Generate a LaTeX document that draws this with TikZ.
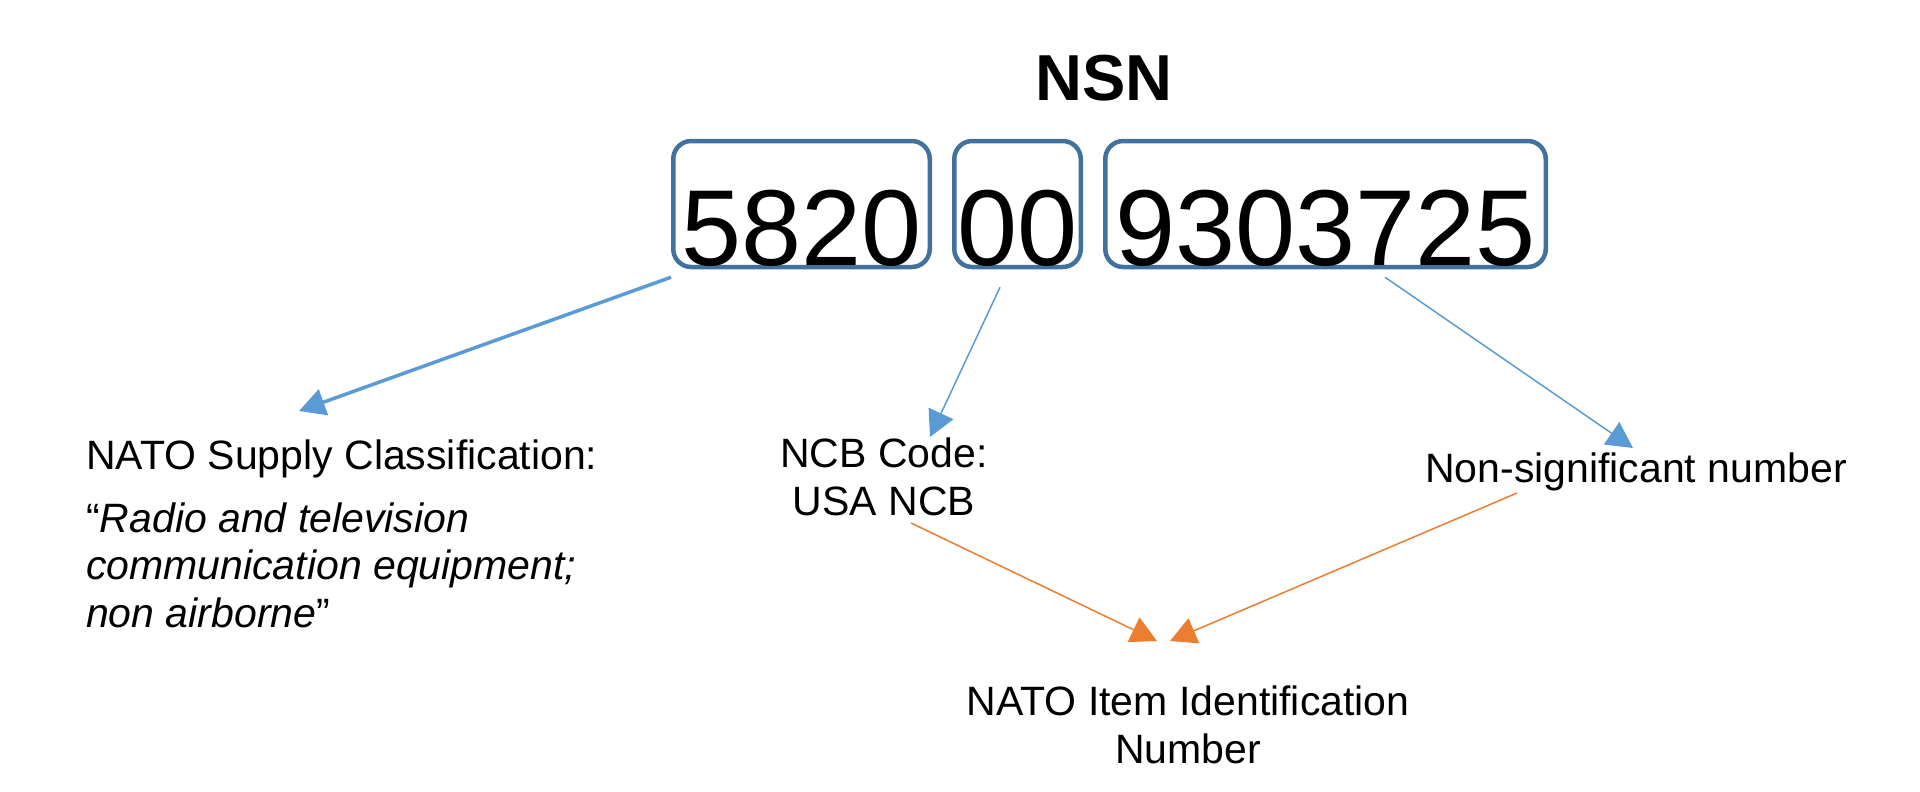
\documentclass[tikz,border=0pt]{standalone}
\usepackage{fontspec}
\setmainfont{Liberation Sans}
\usepackage{xcolor}
\usepackage{tikz}
\usetikzlibrary{arrows.meta,positioning,calc}
\definecolor{boxblue}{RGB}{65,113,156}
\definecolor{arrblue}{RGB}{91,155,213}
\definecolor{arrorange}{RGB}{237,125,49}

\begin{document}
\begin{tikzpicture}[x=1pt, y=-1pt, >={Triangle[length=26pt, width=27pt]}]
\tikzstyle{part}=[draw=boxblue, line width=4.5pt, rounded corners=18pt, inner sep=0pt, minimum height=126pt, text height=122pt, text depth=0pt, font=\fontsize{108}{118}\selectfont]
\tikzstyle{lbl}=[inner sep=0pt, font=\fontsize{41}{47.5}\selectfont]
\tikzstyle{blu}=[->, draw=arrblue, fill=arrblue, line width=1.5pt]
\tikzstyle{org}=[->, draw=arrorange, fill=arrorange, line width=1.5pt]
\useasboundingbox (0,0) rectangle (1920,792);

\node[anchor=base, font=\fontsize{65}{70}\selectfont\bfseries] (nsn) at (1104,100) {NSN};
\node[part, minimum width=256.5pt] (c1) at (801.5,204) {5820};
\node[part, minimum width=126.5pt, right=20pt of c1] (c2) {00};
\node[part, minimum width=440.5pt, right=20pt of c2] (c3) {9303725};

\node[lbl, anchor=base west, align=left] (fsc) at (86,627) {NATO Supply Classification:\\[15.5pt] ``\textit{Radio and television}\\\textit{communication equipment;}\\\textit{non airborne}''};
\node[lbl, anchor=base, align=center] (ncb) at (884,515) {NCB Code:\\USA NCB};
\node[lbl, anchor=base] (sn) at (1636,482) {Non-significant number};
\node[lbl, anchor=base, align=center] (niin) at (1188,763) {NATO Item Identification\\Number};

\draw[blu, line width=3.5pt] ($(c1.south west)+(0,8)$) -- ($(fsc.base west)+(213,-216)$);
\draw[blu] ($(c2.south)+(-17.5,18)$) -- ($(ncb.base)+(46,-78)$);
\draw[blu] ($(c3.south)+(59.5,8)$) -- ($(sn.base)+(-3,-34)$);
\draw[org] ($(ncb.base)+(27,8)$) -- ($(niin.base)+(-31,-122)$);
\draw[org] ($(sn.base)+(-119,11)$) -- ($(niin.base)+(-18,-122)$);
\end{tikzpicture}
\end{document}
